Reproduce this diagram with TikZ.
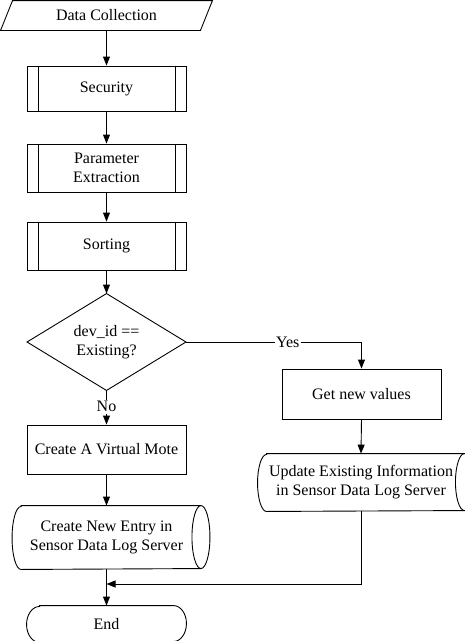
\documentclass[tikz,border=0pt]{standalone}
\usepackage{fontspec}
\setmainfont{Liberation Serif}
\usetikzlibrary{arrows.meta,calc}
\begin{document}
\begin{tikzpicture}[x=1pt,y=1pt,line width=0.9pt,
  txt/.style={inner sep=0pt,align=center,font=\fontsize{16}{19}\selectfont},
  box/.style={txt,draw,minimum width=159pt},
  lbl/.style={fill=white,inner sep=1.5pt,font=\fontsize{16}{19}\selectfont},
  arr/.style={-{Triangle[length=9pt,width=7pt]}}]
\useasboundingbox (0,0) rectangle (464,-641);

% Data Collection (parallelogram)
\node[txt,minimum width=187pt,minimum height=29pt] (dc) at (106.5,-15.5) {Data Collection};
\draw ($(dc.south west)+(-12,0)$) -- (dc.north west) -- ($(dc.north east)+(12,0)$) -- (dc.south east) -- cycle;

% predefined processes
\node[box,minimum height=45pt] (sec) at (106.5,-88.5) {Security};
\node[box,minimum height=48pt] (pe) at (106.5,-168) {Parameter\\Extraction};
\node[box,minimum height=48pt] (sort) at (106.5,-246) {Sorting};
\foreach \n in {sec,pe,sort}{
  \draw ($(\n.north west)+(11.5,0)$) -- ($(\n.south west)+(11.5,0)$);
  \draw ($(\n.north east)+(-11.5,0)$) -- ($(\n.south east)+(-11.5,0)$);
}

% decision
\node[txt,minimum width=158pt,minimum height=96pt] (dia) at (106.5,-342) {dev\_id ==\\Existing?};
\draw (dia.north) -- (dia.east) -- (dia.south) -- (dia.west) -- cycle;

% processes
\node[box,minimum height=50pt] (gnv) at (361.5,-394) {Get new values};
\node[box,minimum height=49pt] (cvm) at (106.5,-449.5) {Create A Virtual Mote};

% storage: create new entry
\node[txt,minimum width=188pt,minimum height=63pt] (cne) at (106.5,-537.5) {Create New Entry in\\Sensor Data Log Server};
\draw ($(cne.north west)+(9,0)$) -- (cne.north east)
  arc[start angle=90,end angle=-90,x radius=9,y radius=31.5]
  -- ($(cne.south west)+(9,0)$)
  arc[start angle=270,end angle=90,x radius=9,y radius=31.5] -- cycle;
\draw (cne.north east) arc[start angle=90,end angle=270,x radius=9,y radius=31.5];

% storage: update existing
\node[txt,minimum width=206pt,minimum height=57pt] (upd) at (361,-482.5) {Update Existing Information\\in Sensor Data Log Server};
\draw ($(upd.north west)+(9,0)$) -- (upd.north east)
  arc[start angle=90,end angle=-90,x radius=9,y radius=28.5]
  -- ($(upd.south west)+(9,0)$)
  arc[start angle=270,end angle=90,x radius=9,y radius=28.5] -- cycle;
\draw (upd.north east) arc[start angle=90,end angle=270,x radius=9,y radius=28.5];

% terminator
\node[txt,minimum width=159pt,minimum height=36pt] (end) at (106.5,-624) {End};
\draw ($(end.north west)+(13,0)$) -- ($(end.north east)+(-13,0)$)
  arc[start angle=90,end angle=-90,x radius=13,y radius=18]
  -- ($(end.south west)+(13,0)$)
  arc[start angle=270,end angle=90,x radius=13,y radius=18] -- cycle;

% connectors
\draw[arr] (dc.south) -- (sec.north);
\draw[arr] (sec.south) -- (pe.north);
\draw[arr] (pe.south) -- (sort.north);
\draw[arr] (sort.south) -- (dia.north);
\draw[arr] (dia.east) -| node[lbl,pos=0.29] {Yes} (gnv.north);
\draw[arr] (dia.south) -- node[lbl,pos=0.48] {No} (cvm.north);
\draw[arr] (cvm.south) -- (cne.north);
\draw[arr] (gnv.south) -- (upd.north);
\coordinate (m) at (106.5,-584);
\draw[arr] (upd.south) |- (m);
\draw[arr] (cne.south) -- (end.north);
\end{tikzpicture}
\end{document}
